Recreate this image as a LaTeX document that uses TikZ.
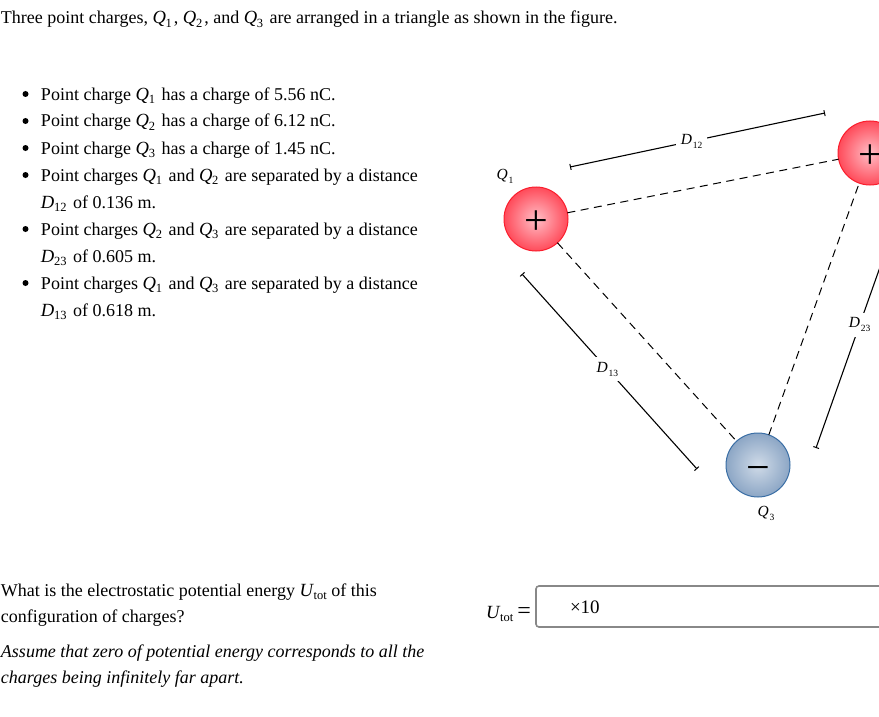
\documentclass[tikz,border=0pt]{standalone}
\usepackage{fontspec}
\setmainfont{Liberation Serif}
\usetikzlibrary{arrows.meta}
\newcommand{\lowidx}[2]{\textit{\fontsize{18.6}{20}\selectfont #1}\kern-0.3pt\raisebox{-0.22em}{\fontsize{12.5}{13}\selectfont #2}\kern2pt\relax}
\newcommand{\figidx}[2]{\textit{#1}\kern0.8pt\raisebox{-0.25em}{\fontsize{9.5}{10}\selectfont #2}}
\newcommand{\chargesign}[2]{\raisebox{#1}[0pt][0pt]{#2}}
\tikzset{
  every node/.style={inner sep=0pt,outer sep=0pt},
  txt/.style={anchor=base west,font=\fontsize{18}{20}\selectfont},
  lbl/.style={font=\fontsize{15.5}{17}\selectfont},
  dimlabel/.style={lbl,fill=white,inner sep=5pt},
  pos charge/.style={circle,minimum size=64,line width=1pt,draw={rgb,255:red,250;green,30;blue,45},inner color={rgb,255:red,255;green,190;blue,198},outer color={rgb,255:red,255;green,75;blue,90},font=\fontsize{42}{42}\selectfont},
  neg charge/.style={circle,minimum size=64,line width=1pt,draw={rgb,255:red,58;green,110;blue,165},inner color={rgb,255:red,208;green,219;blue,232},outer color={rgb,255:red,140;green,166;blue,197},font=\fontsize{42}{42}\selectfont},
  sep line/.style={draw=black,line width=1pt,dash pattern=on 8pt off 5.5pt},
  dim line/.style={draw=black,line width=1.1pt,{Bar[width=6pt,line width=1pt]}-{Bar[width=6pt,line width=1pt]}},
  answer box/.style={draw={rgb,255:red,136;green,136;blue,136},line width=1.6pt,rounded corners=3pt}
}
\begin{document}
\begin{tikzpicture}[x=1pt,y=-1pt]
\useasboundingbox (0,0) rectangle (879,717);
\clip (0,0) rectangle (879,717);
\node[txt] (intro) at (1,24) {Three point charges, \lowidx{Q}{1}, \lowidx{Q}{2}, and \lowidx{Q}{3} are arranged in a triangle as shown in the figure.};
\foreach \y in {94,121,148,175,229,283}
  \fill (25.5,\y) circle (3pt);
\node[txt] (t1) at (41,100) {Point charge \lowidx{Q}{1} has a charge of 5.56 nC.};
\node[txt] (t2) at (41,127) {Point charge \lowidx{Q}{2} has a charge of 6.12 nC.};
\node[txt] (t3) at (41,154) {Point charge \lowidx{Q}{3} has a charge of 1.45 nC.};
\node[txt] (t4) at (41,181) {Point charges \lowidx{Q}{1} and \lowidx{Q}{2} are separated by a distance};
\node[txt] (t5) at (41,208) {\lowidx{D}{12} of 0.136 m.};
\node[txt] (t6) at (41,235) {Point charges \lowidx{Q}{2} and \lowidx{Q}{3} are separated by a distance};
\node[txt] (t7) at (41,262) {\lowidx{D}{23} of 0.605 m.};
\node[txt] (t8) at (41,289) {Point charges \lowidx{Q}{1} and \lowidx{Q}{3} are separated by a distance};
\node[txt] (t9) at (41,316) {\lowidx{D}{13} of 0.618 m.};
\node[txt] (q1l) at (1,596) {What is the electrostatic potential energy \lowidx{U}{tot}\kern-2pt\relax{} of this};
\node[txt] (q2l) at (1,622) {configuration of charges?};
\node[txt] (q3l) at (1,657) {\textit{Assume that zero of potential energy corresponds to all the}};
\node[txt] (q4l) at (1,683) {\textit{charges being infinitely far apart.}};
\node[pos charge] (Q1) at (536,219) {\chargesign{-15.5pt}{+}};
\node[pos charge] (Q2) at (870,153) {\chargesign{-15.5pt}{+}};
\node[neg charge] (Q3) at (758,465) {\chargesign{-16.5pt}{−}};
\draw[sep line] (Q1) -- (Q2);
\draw[sep line] (Q3) -- (Q2);
\draw[sep line] (Q1) -- (Q3);
\node[lbl] (L1) at (505,176) {\figidx{Q}{1}};
\node[lbl] (L3) at (766,513) {\figidx{Q}{3}};
\coordinate (a12) at (570,167); \coordinate (b12) at (825,113);
\coordinate (a13) at (522,274); \coordinate (b13) at (697,469);
\coordinate (a23) at (816,448); \coordinate (b23) at (925,140);
\draw[dim line] (a12) -- (b12) node[dimlabel,pos=0.477] (D12) {\figidx{D}{12}};
\draw[dim line] (a13) -- (b13) node[dimlabel,pos=0.488] (D13) {\figidx{D}{13}};
\draw[dim line] (a23) -- (b23) node[dimlabel,pos=0.4] (D23) {\figidx{D}{23}};
\node[anchor=base west,font=\fontsize{18}{20}\selectfont] (U) at (486,618) {\lowidx{U}{tot}\kern2pt\relax{\fontsize{24}{24}\selectfont =}};
\draw[answer box] (536,586) rectangle (900,627);
\node[anchor=base west,font=\fontsize{19}{20}\selectfont] (x10) at (570,613) {×10};
\end{tikzpicture}
\end{document}
